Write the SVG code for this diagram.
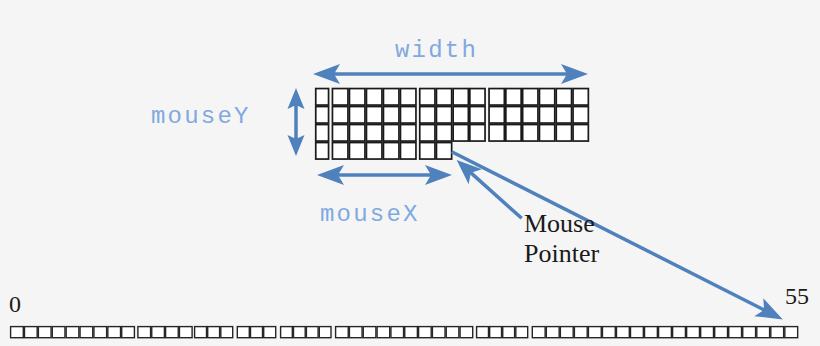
<svg xmlns="http://www.w3.org/2000/svg" xmlns:xlink="http://www.w3.org/1999/xlink" width="820" height="346" viewBox="0 0 820 346">
<style>
.t{fill:#fff;stroke:#1a1a1a;stroke-width:1.7}
.b{fill:#fff;stroke:#262626;stroke-width:1.4}
.arr{fill:none;stroke:#4f81bd;stroke-width:3.5}
.lbl{font-family:"Liberation Mono","Courier New",monospace;font-size:24px;letter-spacing:2.2px;fill:#80a9e0}
.ser{font-family:"Liberation Serif","Times New Roman",serif;fill:#1a1a1a}
</style>
<defs>
<marker id="ah" viewBox="-30 -12 32 24" markerWidth="32" markerHeight="24" refX="-6" refY="0" orient="auto-start-reverse" markerUnits="userSpaceOnUse">
<path d="M0,0 L-27,-10 L-21,0 L-27,10 Z" fill="#4f81bd"/>
</marker>
<marker id="ahs" viewBox="-24 -10 26 20" markerWidth="26" markerHeight="20" refX="-5" refY="0" orient="auto-start-reverse" markerUnits="userSpaceOnUse">
<path d="M0,0 L-21,-8.5 L-17,0 L-21,8.5 Z" fill="#4f81bd"/>
</marker>
<marker id="ahm" viewBox="-28 -11 30 22" markerWidth="30" markerHeight="22" refX="-5" refY="0" orient="auto" markerUnits="userSpaceOnUse">
<path d="M0,0 L-25,-10 L-19,0 L-25,10 Z" fill="#4f81bd"/>
</marker>
<g id="rowL">
<rect class="t" x="315.75" y="0.75" width="12.8" height="16.5"/>
<rect class="t" x="332.45" y="0.75" width="15.5" height="16.5"/>
<rect class="t" x="349.45" y="0.75" width="15.5" height="16.5"/>
<rect class="t" x="366.45" y="0.75" width="15.5" height="16.5"/>
<rect class="t" x="383.45" y="0.75" width="15.5" height="16.5"/>
<rect class="t" x="400.45" y="0.75" width="15.5" height="16.5"/>
<rect class="t" x="419.75" y="0.75" width="15.2" height="16.5"/>
<rect class="t" x="436.45" y="0.75" width="15.2" height="16.5"/>
</g>
<g id="rowR">
<rect class="t" x="453.15" y="0.75" width="15.2" height="16.5"/>
<rect class="t" x="469.85" y="0.75" width="15.2" height="16.5"/>
<rect class="t" x="489.05" y="0.75" width="15.3" height="16.5"/>
<rect class="t" x="505.85" y="0.75" width="15.3" height="16.5"/>
<rect class="t" x="522.65" y="0.75" width="15.3" height="16.5"/>
<rect class="t" x="539.45" y="0.75" width="15.3" height="16.5"/>
<rect class="t" x="556.25" y="0.75" width="15.3" height="16.5"/>
<rect class="t" x="573.05" y="0.75" width="15.3" height="16.5"/>
</g>
</defs>
<rect width="820" height="346" fill="#f5f5f5"/>

<g id="window-grid">
<use xlink:href="#rowL" href="#rowL" y="87.8"/>
<use xlink:href="#rowR" href="#rowR" y="87.8"/>
<use xlink:href="#rowL" href="#rowL" y="105.8"/>
<use xlink:href="#rowR" href="#rowR" y="105.8"/>
<use xlink:href="#rowL" href="#rowL" y="123.8"/>
<use xlink:href="#rowR" href="#rowR" y="123.8"/>
<use xlink:href="#rowL" href="#rowL" y="141.8"/>
</g>

<g id="linear-strip">
<rect class="b" x="10.6" y="326.6" width="12.69" height="11.1"/>
<rect class="b" x="24.49" y="326.6" width="12.69" height="11.1"/>
<rect class="b" x="38.38" y="326.6" width="12.69" height="11.1"/>
<rect class="b" x="52.27" y="326.6" width="12.69" height="11.1"/>
<rect class="b" x="66.16" y="326.6" width="12.69" height="11.1"/>
<rect class="b" x="80.05" y="326.6" width="12.69" height="11.1"/>
<rect class="b" x="93.94" y="326.6" width="12.69" height="11.1"/>
<rect class="b" x="107.83" y="326.6" width="12.69" height="11.1"/>
<rect class="b" x="121.72" y="326.6" width="12.69" height="11.1"/>
<rect class="b" x="137.9" y="326.6" width="12.65" height="11.1"/>
<rect class="b" x="151.75" y="326.6" width="12.65" height="11.1"/>
<rect class="b" x="165.6" y="326.6" width="12.65" height="11.1"/>
<rect class="b" x="179.45" y="326.6" width="12.65" height="11.1"/>
<rect class="b" x="194.6" y="326.6" width="11.9" height="11.1"/>
<rect class="b" x="207.7" y="326.6" width="11.9" height="11.1"/>
<rect class="b" x="220.8" y="326.6" width="11.9" height="11.1"/>
<rect class="b" x="237.3" y="326.6" width="12" height="11.1"/>
<rect class="b" x="250.5" y="326.6" width="12" height="11.1"/>
<rect class="b" x="263.7" y="326.6" width="12" height="11.1"/>
<rect class="b" x="280.6" y="326.6" width="11.7" height="11.1"/>
<rect class="b" x="293.5" y="326.6" width="11.7" height="11.1"/>
<rect class="b" x="306.4" y="326.6" width="11.7" height="11.1"/>
<rect class="b" x="319.3" y="326.6" width="11.7" height="11.1"/>
<rect class="b" x="335.6" y="326.6" width="12.63" height="11.1"/>
<rect class="b" x="349.43" y="326.6" width="12.63" height="11.1"/>
<rect class="b" x="363.26" y="326.6" width="12.63" height="11.1"/>
<rect class="b" x="377.09" y="326.6" width="12.63" height="11.1"/>
<rect class="b" x="390.92" y="326.6" width="12.63" height="11.1"/>
<rect class="b" x="404.75" y="326.6" width="12.63" height="11.1"/>
<rect class="b" x="418.58" y="326.6" width="12.63" height="11.1"/>
<rect class="b" x="432.41" y="326.6" width="12.63" height="11.1"/>
<rect class="b" x="446.24" y="326.6" width="12.63" height="11.1"/>
<rect class="b" x="460.07" y="326.6" width="12.63" height="11.1"/>
<rect class="b" x="476.6" y="326.6" width="11.87" height="11.1"/>
<rect class="b" x="489.67" y="326.6" width="11.87" height="11.1"/>
<rect class="b" x="502.74" y="326.6" width="11.87" height="11.1"/>
<rect class="b" x="515.81" y="326.6" width="11.87" height="11.1"/>
<rect class="b" x="532.3" y="326.6" width="12.83" height="11.1"/>
<rect class="b" x="546.33" y="326.6" width="12.83" height="11.1"/>
<rect class="b" x="560.36" y="326.6" width="12.83" height="11.1"/>
<rect class="b" x="574.39" y="326.6" width="12.83" height="11.1"/>
<rect class="b" x="588.42" y="326.6" width="12.83" height="11.1"/>
<rect class="b" x="602.45" y="326.6" width="12.83" height="11.1"/>
<rect class="b" x="616.48" y="326.6" width="12.83" height="11.1"/>
<rect class="b" x="630.51" y="326.6" width="12.83" height="11.1"/>
<rect class="b" x="644.54" y="326.6" width="12.83" height="11.1"/>
<rect class="b" x="658.57" y="326.6" width="12.83" height="11.1"/>
<rect class="b" x="672.6" y="326.6" width="12.83" height="11.1"/>
<rect class="b" x="686.63" y="326.6" width="12.83" height="11.1"/>
<rect class="b" x="700.66" y="326.6" width="12.83" height="11.1"/>
<rect class="b" x="714.69" y="326.6" width="12.83" height="11.1"/>
<rect class="b" x="728.72" y="326.6" width="12.83" height="11.1"/>
<rect class="b" x="742.75" y="326.6" width="12.83" height="11.1"/>
<rect class="b" x="756.78" y="326.6" width="12.83" height="11.1"/>
<rect class="b" x="770.81" y="326.6" width="12.83" height="11.1"/>
<rect class="b" x="784.84" y="326.6" width="12.83" height="11.1"/>
</g>

<g id="connectors">
<path id="width-arrow" class="arr" d="M319,74 L582,74" marker-start="url(#ah)" marker-end="url(#ah)"/>
<path id="mousex-arrow" class="arr" d="M323,175 L446,175" marker-start="url(#ah)" marker-end="url(#ah)"/>
<path id="mousey-arrow" class="arr" d="M296,93 L296,151" marker-start="url(#ahs)" marker-end="url(#ahs)"/>
<path id="pointer-arrow" class="arr" d="M521.7,218.3 L460.4,163.4" marker-end="url(#ahm)"/>
<path id="map-arrow" class="arr" d="M451.7,151.7 L777.5,316.7" marker-end="url(#ah)"/>
</g>

<g id="labels">
<text class="lbl" x="395" y="57">width</text>
<text class="lbl" x="151" y="123">mouseY</text>
<text class="lbl" x="320" y="221">mouseX</text>
<text class="ser" x="524" y="231.7" font-size="26">Mouse</text>
<text class="ser" x="524" y="261.7" font-size="26">Pointer</text>
<text class="ser" x="9" y="311.5" font-size="24">0</text>
<text class="ser" x="785" y="303.5" font-size="24">55</text>
</g>
</svg>
